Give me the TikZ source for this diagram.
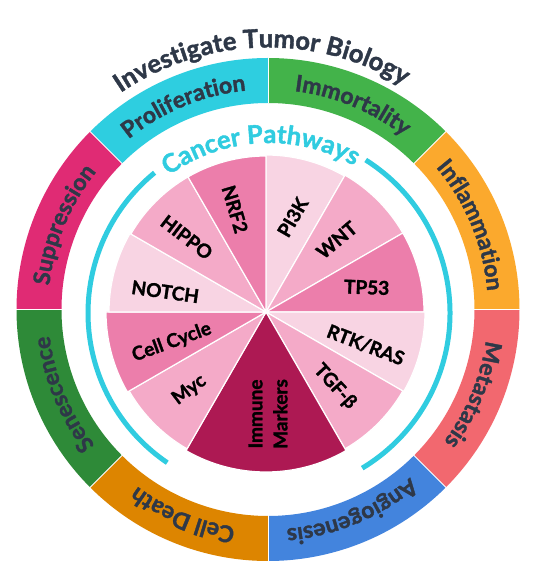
\documentclass[tikz,border=0pt]{standalone}
\usepackage{fontspec}
\setmainfont{Lato}[BoldFeatures={FakeBold=1.6}]
\usetikzlibrary{calc,decorations.text}
\definecolor{ink}{RGB}{46,56,72}
\definecolor{cProl}{RGB}{46,206,224}
\definecolor{cImm}{RGB}{67,179,74}
\definecolor{cInf}{RGB}{251,169,45}
\definecolor{cMet}{RGB}{242,104,111}
\definecolor{cAng}{RGB}{67,132,221}
\definecolor{cDeath}{RGB}{221,133,0}
\definecolor{cSen}{RGB}{46,138,56}
\definecolor{cSup}{RGB}{224,43,116}
\definecolor{cCyan}{RGB}{48,204,224}
\definecolor{pLight}{RGB}{248,212,227}
\definecolor{pMid}{RGB}{244,170,200}
\definecolor{pPink}{RGB}{236,126,171}
\definecolor{pDeep}{RGB}{173,25,83}
\tikzset{
  plab/.style={font=\fontsize{19}{25}\selectfont\bfseries, text=black, inner sep=0pt},
  slice/.style={draw=white, line width=1.2pt},
}
\newcommand{\ringtxt}{\color{ink}\fontsize{23}{25}\selectfont\bfseries}
\begin{document}
\begin{tikzpicture}[x=1pt,y=1pt]
\useasboundingbox (0,0) rectangle (545,579);
\fill[white] (0,0) rectangle (545,579);
\coordinate (C) at (268,269.5);
\coordinate (P) at (266,267);
\coordinate (Q) at (269,266);

% outer ring segments
\foreach \a/\col in {90/cProl, 45/cImm, 0/cInf, -45/cMet, -90/cAng, -135/cDeath, 180/cSen, 135/cSup}{
  \fill[\col] ($(C)+(\a:251.5)$) arc[start angle=\a, end angle={\a+45}, radius=251.5]
     -- ($(C)+({\a+45}:206.5)$) arc[start angle={\a+45}, end angle=\a, radius=206.5] -- cycle;
}
\foreach \a in {0,45,...,315}{
  \draw[white, line width=0.8pt] ($(C)+(\a:206)$) -- ($(C)+(\a:252)$);
}

% ring labels
\foreach \a/\txt in {135/Proliferation, 90/Immortality, 45/Inflammation, 0/Metastasis, -45/Angiogenesis, -90/Cell Death, 225/Senescence, 180/Suppression}{
  \path[decorate, decoration={text along path, text={|\ringtxt|\txt}, text align=center}]
    ($(C)+(\a:220)$) arc[start angle=\a, end angle={\a-45}, radius=220];
}

% title
\path[decorate, decoration={text along path, text={|\color{ink}\fontsize{25.5}{27}\selectfont\bfseries|Investigate Tumor Biology}, text align=center}]
  ($(C)+(158:262)$) arc[start angle=158, end angle=25, radius=262];

% cyan inner arcs
\draw[cCyan, line width=5pt] ($(Q)+(57.7:181)$) arc[start angle=57.7, end angle=-59, radius=181];
\draw[cCyan, line width=5pt] ($(Q)+(129.2:181)$) arc[start angle=129.2, end angle=235.8, radius=181];
\path[decorate, decoration={text along path, text={|\color{cCyan}\fontsize{25.5}{27}\selectfont\bfseries|Cancer Pathways}, text align=center}]
  ($(Q)+(150:170)$) arc[start angle=150, end angle=36, radius=170];

% pie slices
\foreach \s/\e/\r/\col in {60/90/157/pLight, 30/60/158/pMid, 0/30/158/pPink, -30/0/159/pLight, -60/-30/158/pMid, -120/-60/160/pDeep, -150/-120/158/pMid, 180/210/160/pPink, 150/180/157/pLight, 120/150/156/pMid, 90/120/156/pPink}{
  \filldraw[fill=\col, slice] (P) -- ($(P)+(\s:\r)$) arc[start angle=\s, end angle=\e, radius=\r] -- cycle;
}

% pie labels
\node[plab, rotate=60] (pi3k) at (292.7,361.7) {PI3K};
\node[plab, rotate=40] (wnt) at (336.7,339) {WNT};
\node[plab, rotate=-2] (tp53) at (366.7,291.7) {TP53};
\node[plab, rotate=-21] (rtk) at (365.7,234) {RTK/RAS};
\node[plab, rotate=-47.5] (tgf) at (335,192.3) {TGF-β};
\node[plab, rotate=90, align=center] (imm) at (268,165) {Immune\\Markers};
\node[plab, rotate=37] (myc) at (189.3,189) {Myc};
\node[plab, rotate=20] (cc) at (171.7,236.7) {Cell Cycle};
\node[plab, rotate=-8] (notch) at (165.3,287.3) {NOTCH};
\node[plab, rotate=-37.5] (hippo) at (186.7,341.7) {HIPPO};
\node[plab, rotate=-73.5] (nrf2) at (235,369.7) {NRF2};
\end{tikzpicture}
\end{document}
